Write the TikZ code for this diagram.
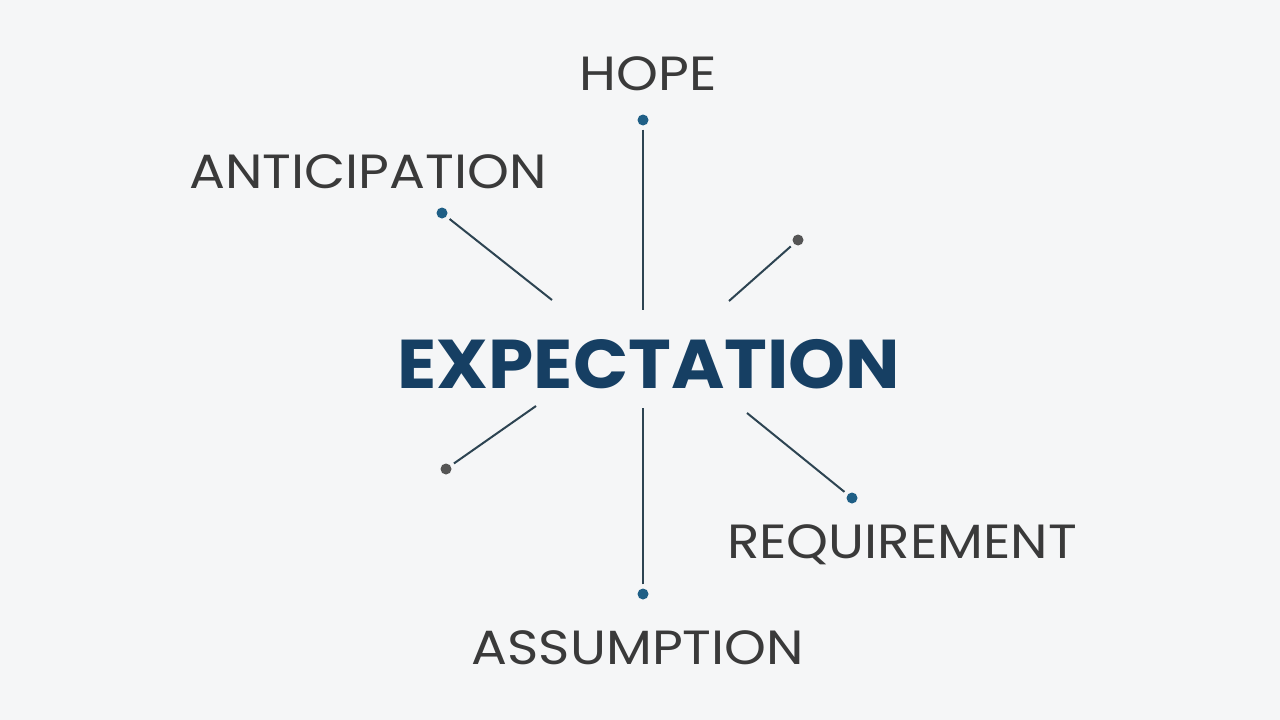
\documentclass[tikz,border=0pt]{standalone}
\usepackage{fontspec}
\setmainfont{Poppins}
\newfontfamily\wordfont{Poppins}[FakeStretch=1.11]
\newfontfamily\hubfont{Poppins}[FakeStretch=1.05]
\usetikzlibrary{positioning}
\definecolor{bgcol}{HTML}{F5F6F7}
\definecolor{navy}{HTML}{163F63}
\definecolor{dotblue}{HTML}{1F5F86}
\definecolor{dotgray}{HTML}{555555}
\definecolor{wordgray}{HTML}{3A3A3A}
\definecolor{linecol}{HTML}{2D4452}
\tikzset{word/.style={anchor=base, inner sep=0pt, text=wordgray, font=\wordfont\fontsize{48}{50}\selectfont}}
\tikzset{hub/.style={anchor=base, inner sep=0pt, text=navy, font=\hubfont\fontsize{69}{72}\selectfont\bfseries}}
\tikzset{dot/.style={circle, inner sep=0pt, minimum size=11pt, fill=dotblue}}
\tikzset{spoke/.style={draw=linecol, line width=2pt, shorten <=4pt}}
\begin{document}
\begin{tikzpicture}[x=1pt,y=-1pt]
\useasboundingbox[fill=bgcol] (0,0) rectangle (1280,720);

\node[hub] (expect) at (649,388) {EXPECTATION};

\node[word] (hope) at (648,90) {HOPE};
\node[word] (antic) at (368,188) {ANTICIPATION};
\node[word] (requ) at (902,558) {REQUIREMENT};
\node[word] (assum) at (638,664) {ASSUMPTION};

\node[dot] (dhope) at (643,120) {};
\node[dot] (dantic) at (442,213) {};
\node[dot,fill=dotgray] (dur) at (798,240) {};
\node[dot,fill=dotgray] (dll) at (446,469) {};
\node[dot] (drequ) at (852,498) {};
\node[dot] (dassum) at (643,594) {};

\coordinate (chope) at (643,310);
\coordinate (cantic) at (552,300);
\coordinate (cur) at (729,301);
\coordinate (cll) at (536,406);
\coordinate (crequ) at (747,413);
\coordinate (cassum) at (643,408);

\path[spoke] (dhope) -- (chope);
\path[spoke] (dantic) -- (cantic);
\path[spoke] (dur) -- (cur);
\path[spoke] (dll) -- (cll);
\path[spoke] (drequ) -- (crequ);
\path[spoke] (dassum) -- (cassum);

\end{tikzpicture}
\end{document}
